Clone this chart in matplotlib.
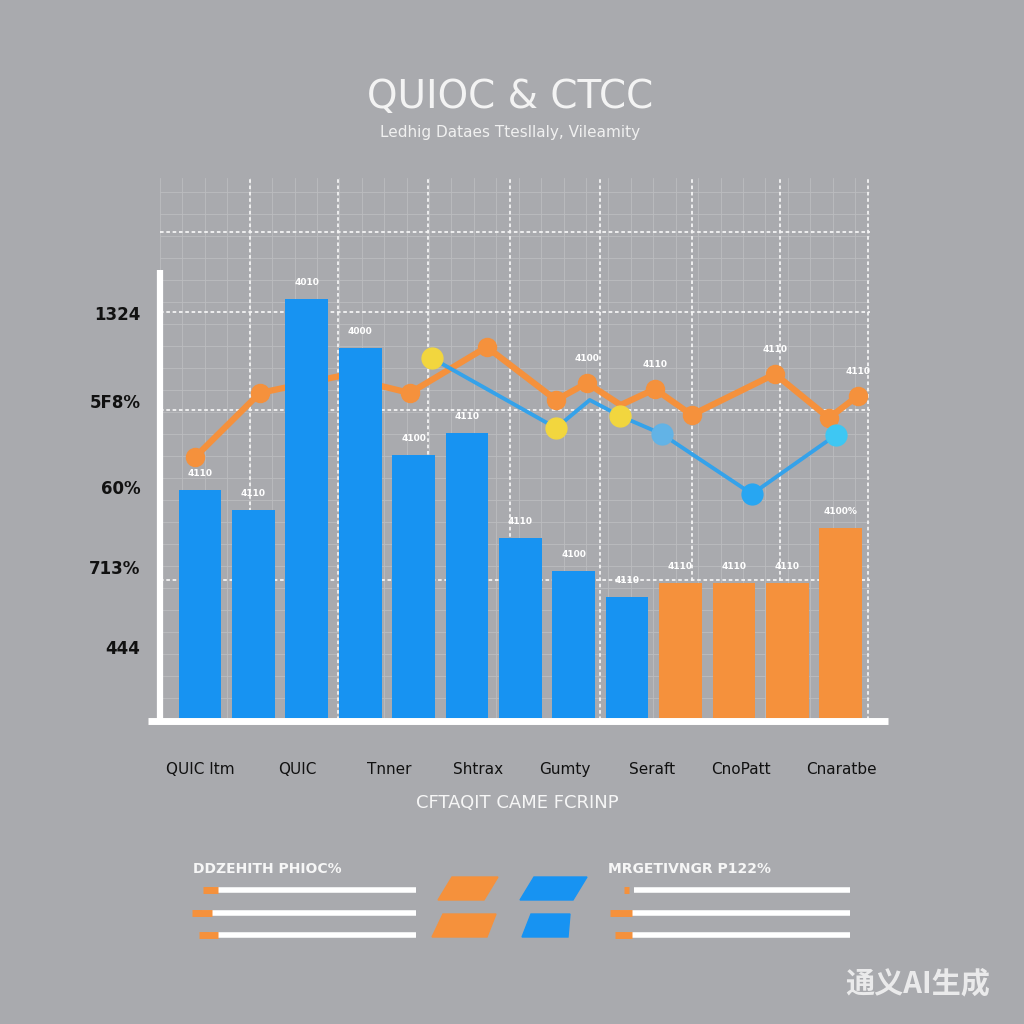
import numpy as np
import matplotlib
matplotlib.use('Agg')
import matplotlib.pyplot as plt
from matplotlib.patches import Polygon

plt.rcParams['font.family'] = ['DejaVu Sans', 'Noto Sans CJK SC']

# ---- data ----
bar_values = [230, 210, 421, 372, 265, 287, 182, 149, 123, 137, 137, 137, 192]
bar_colors = ['#1793f2'] * 9 + ['#f5913c'] * 4
bar_labels = ['4110', '4110', '4010', '4000', '4100', '4110', '4110',
              '4100', '4110', '4110', '4110', '4110', '4100%']

orange_x = [-0.09, 1.12, 2.62, 3.93, 5.37, 6.67, 7.25, 7.88, 8.52, 9.21, 10.77, 11.78, 12.32]
orange_y = [263, 327, 344, 327, 373, 320, 337, 315, 331, 305, 346, 302, 324]
orange_marks = [0, 1, 3, 4, 5, 6, 8, 9, 10, 11, 12]

blue_x = [4.34, 6.67, 7.30, 7.87, 8.65, 10.34, 11.91]
blue_y = [362, 292, 320, 304, 286, 226, 285]
blue_mark_colors = ['#f2d63e', '#f2d63e', None, '#f2d63e', '#62b3e6', '#27a6f2', '#3ec7f3']

point_labels = ['4100', '4110', '4110', '4110']
point_label_idx = [6, 8, 10, 12]

xtick_pos = [0, 1.82, 3.54, 5.21, 6.84, 8.46, 10.13, 12.02]
xtick_labels = ['QUIC Itm', 'QUIC', 'Tnner', 'Shtrax', 'Gumty', 'Seraft', 'CnoPatt', 'Cnaratbe']

ytick_pos = [407, 319, 233, 153, 73]
ytick_labels = ['1324', '5F8%', '60%', '713%', '444']

left_legend = [(0.05, 0.08), (0.0, 0.10), (0.03, 0.10)]
right_legend = [(0.06, 0.03), (0.0, 0.10), (0.02, 0.08)]

BG = '#a9aaae'
fig = plt.figure(figsize=(10.24, 10.24), dpi=100, facecolor=BG)

ax = fig.add_axes([160 / 1024, (1024 - 720) / 1024, 710 / 1024, 542 / 1024])
ax.set_facecolor(BG)
ax.set_xlim(-0.75, 12.55)
ax.set_ylim(0, 542)
for s in ax.spines.values():
    s.set_visible(False)

# fine grid
for gx in np.arange(-0.75, 12.6, 0.42):
    ax.axvline(gx, color='#bbbcbf', lw=0.6, zorder=0)
for gy in np.arange(0, 542, 22):
    ax.axhline(gy, color='#bbbcbf', lw=0.6, zorder=0)
# dashed main grid
for gx in [0.94, 2.58, 4.27, 5.81, 7.49, 9.21, 10.86, 12.52]:
    ax.axvline(gx, color='#f4f4f4', lw=1.3, ls=(0, (2, 1.5)), zorder=0.5)
for gy in [488, 408, 310, 140]:
    ax.axhline(gy, color='#f4f4f4', lw=1.3, ls=(0, (2, 1.5)), zorder=0.5)

# lines (behind bars)
ax.plot(orange_x, orange_y, color='#f5913c', lw=4.5, zorder=2, solid_joinstyle='round')
ax.plot([orange_x[i] for i in orange_marks], [orange_y[i] for i in orange_marks], 'o',
        color='#f5913c', ms=13, zorder=2.1)
ax.plot(blue_x, blue_y, color='#35a2ea', lw=2.8, zorder=2)
for x, y, c in zip(blue_x, blue_y, blue_mark_colors):
    if c:
        ax.plot(x, y, 'o', color=c, ms=15, zorder=2.2)

# bars
xs = np.arange(len(bar_values))
ax.bar(xs, bar_values, width=0.8, color=bar_colors, zorder=3)
for x, v, lab in zip(xs, bar_values, bar_labels):
    ax.text(x, v + 12, lab, ha='center', va='bottom', fontsize=6.5, color='white',
            fontweight='bold', zorder=4)
for i, lab in zip(point_label_idx, point_labels):
    ax.text(orange_x[i], orange_y[i] + 20, lab, ha='center', va='bottom', fontsize=6.5,
            color='white', fontweight='bold', zorder=4)

ax.set_xticks(xtick_pos)
ax.set_xticklabels(xtick_labels, fontsize=11, color='#111111')
ax.set_yticks(ytick_pos)
ax.set_yticklabels(ytick_labels, fontsize=12, color='#111111', fontweight='bold')
ax.tick_params(axis='x', length=0, pad=30)
ax.tick_params(axis='y', length=0, pad=14)

# overlay for frame lines, titles and legend decorations (pixel coords)
ov = fig.add_axes([0, 0, 1, 1], facecolor='none')
ov.set_xlim(0, 1024)
ov.set_ylim(1024, 0)
ov.axis('off')

ov.plot([148, 888], [721, 721], color='white', lw=5, solid_capstyle='butt')
ov.plot([160, 160], [270, 721], color='white', lw=4.5, solid_capstyle='butt')

ov.text(510, 97, 'QUIOC & CTCC', ha='center', va='center', fontsize=28, color='#f3f3f3')
ov.text(510, 133, 'Ledhig Dataes Ttesllaly, Vileamity', ha='center', va='center',
        fontsize=11, color='#f0f0f0')
ov.text(517, 803, 'CFTAQIT CAME FCRINP', ha='center', va='center', fontsize=13, color='#f6f6f6')

ov.text(193, 869, 'DDZEHITH PHIOC%', ha='left', va='center', fontsize=10, color='#f6f6f6',
        fontweight='bold')
ov.text(608, 869, 'MRGETIVNGR P122%', ha='left', va='center', fontsize=10, color='#f6f6f6',
        fontweight='bold')

rows_y = [890, 913, 935]
for (start, frac), y in zip(left_legend, rows_y):
    x0, x1 = 192, 416
    ov.plot([x0 + start * (x1 - x0) + 10, x1], [y, y], color='white', lw=4, solid_capstyle='butt')
    ov.plot([x0 + start * (x1 - x0), x0 + (start + frac) * (x1 - x0) * 0.9], [y, y],
            color='#f5913c', lw=5, solid_capstyle='butt')
for (start, frac), y in zip(right_legend, rows_y):
    x0, x1 = 610, 850
    ov.plot([x0 + start * (x1 - x0) + 10, x1], [y, y], color='white', lw=4, solid_capstyle='butt')
    ov.plot([x0 + start * (x1 - x0), x0 + (start + frac) * (x1 - x0) * 0.9], [y, y],
            color='#f5913c', lw=5, solid_capstyle='butt')

ov.add_patch(Polygon([(438, 900), (452, 877), (498, 877), (484, 900)], color='#f5913c'))
ov.add_patch(Polygon([(432, 937), (443, 914), (496, 914), (487, 937)], color='#f5913c'))
ov.add_patch(Polygon([(520, 900), (534, 877), (587, 877), (573, 900)], color='#1793f2'))
ov.add_patch(Polygon([(522, 937), (531, 914), (570, 914), (568, 937)], color='#1793f2'))

ov.text(918, 983, '通义AI生成', ha='center', va='center', fontsize=21, color='#f2f2f2',
        fontweight='bold', family=['Noto Sans CJK SC', 'DejaVu Sans'], alpha=0.9)

fig.savefig('out.png', dpi=100, facecolor=BG)
